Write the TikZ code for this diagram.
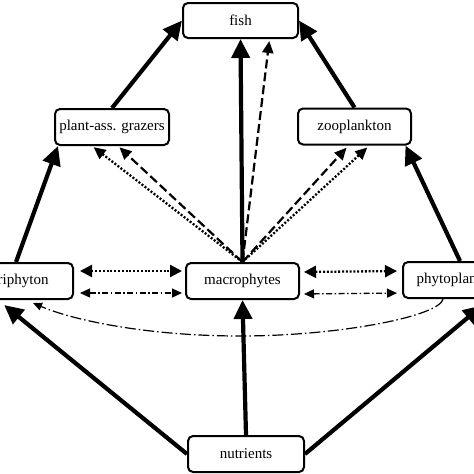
\documentclass[tikz,border=0pt]{standalone}
\usepackage{fontspec}
\setmainfont{Liberation Serif}
\usetikzlibrary{arrows.meta}
\begin{document}
\begin{tikzpicture}[x=1pt,y=-1pt,
  box/.style={draw,line width=2pt,rounded corners=5pt,minimum height=36pt,
    inner sep=0pt,font=\fontsize{15}{17}\selectfont,fill=white},
  thick arrow/.style={line width=4.2pt,-{Triangle[length=19pt,width=18pt]}},
  dotarrow/.style={line width=2.3pt,dash pattern=on 2pt off 1.8pt,-{Triangle[length=12pt,width=11pt]}},
  dasharrow/.style={line width=2.2pt,dash pattern=on 9pt off 4pt,-{Triangle[length=12pt,width=11pt]}},
  dotdouble/.style={line width=2.3pt,dash pattern=on 2pt off 1.8pt,{Triangle[length=12pt,width=12pt]}-{Triangle[length=12pt,width=12pt]}},
  dashdotdouble/.style={line width=1.3pt,dash pattern=on 6pt off 2.5pt on 1.5pt off 2.5pt,{Triangle[length=10pt,width=9pt]}-{Triangle[length=10pt,width=9pt]}},
  curvearrow/.style={line width=1.2pt,dash pattern=on 11pt off 3pt on 1.5pt off 3pt,-{Triangle[length=9pt,width=8pt]}}
]
\useasboundingbox (0,0) rectangle (474,474);
\clip (0,0) rectangle (474,474);
\node[box,minimum width=115pt,minimum height=35pt] (fish) at (240.5,20.5) {fish};
\node[box,minimum width=114pt] (graz) at (112,127) {plant-ass. grazers};
\node[box,minimum width=113pt] (zoo) at (354.5,126.5) {zooplankton};
\node[box,minimum width=114pt] (peri) at (16,281) {periphyton};
\node[box,minimum width=113pt] (mac) at (242.5,281) {macrophytes};
\node[box,minimum width=114pt] (phyto) at (460,280) {phytoplankton};
\node[box,minimum width=116pt] (nut) at (246,454) {nutrients};

% to fish
\draw[thick arrow] (graz.north) -- (fish.west);
\draw[thick arrow] (zoo.north) -- (fish.east);
\draw[thick arrow] (mac.north) -- (fish.south);
\draw[dasharrow,shorten >=2pt] (mac.north) -- ([xshift=29pt]fish.south);
% to grazers / zooplankton
\draw[thick arrow] (peri.north) -- ([xshift=-54pt]graz.south);
\draw[thick arrow] (phyto.north) -- ([xshift=51pt]zoo.south);
\draw[dotarrow,shorten >=2pt] (mac.north) -- ([xshift=-20pt]graz.south);
\draw[dasharrow,shorten >=2pt] (mac.north) -- ([xshift=6pt]graz.south);
\draw[dasharrow,shorten >=3pt] (mac.north) -- ([xshift=-6pt]zoo.south);
\draw[dotarrow,shorten >=3pt] (mac.north) -- ([xshift=15pt]zoo.south);
% horizontal interactions
\draw[dotdouble,shorten <=6pt,shorten >=3pt] ([yshift=10pt]peri.east) -- ([yshift=10pt]mac.west);
\draw[dashdotdouble,shorten <=6pt,shorten >=3pt] ([yshift=-12pt]peri.east) -- ([yshift=-12pt]mac.west);
\draw[dotdouble,shorten <=4pt,shorten >=5pt] ([yshift=9pt]mac.east) -- ([yshift=9pt]phyto.west);
\draw[dashdotdouble,shorten <=4pt,shorten >=5pt] ([yshift=-13pt]mac.east) -- ([yshift=-13pt]phyto.west);
% curve phytoplankton -> periphyton
\draw[curvearrow] ([xshift=-17pt]phyto.south) .. controls +(-3,17) and (340,336) .. (240,336)
   .. controls (150,336) and (75,321) .. ([xshift=17pt,yshift=-3pt]peri.south);
% nutrients
\draw[thick arrow,shorten >=8pt] (nut.west) -- ([xshift=-18pt]peri.south);
\draw[thick arrow] (nut.north) -- (mac.south);
\draw[thick arrow,shorten >=10pt] (nut.east) -- ([xshift=30pt]phyto.south);
\end{tikzpicture}
\end{document}
